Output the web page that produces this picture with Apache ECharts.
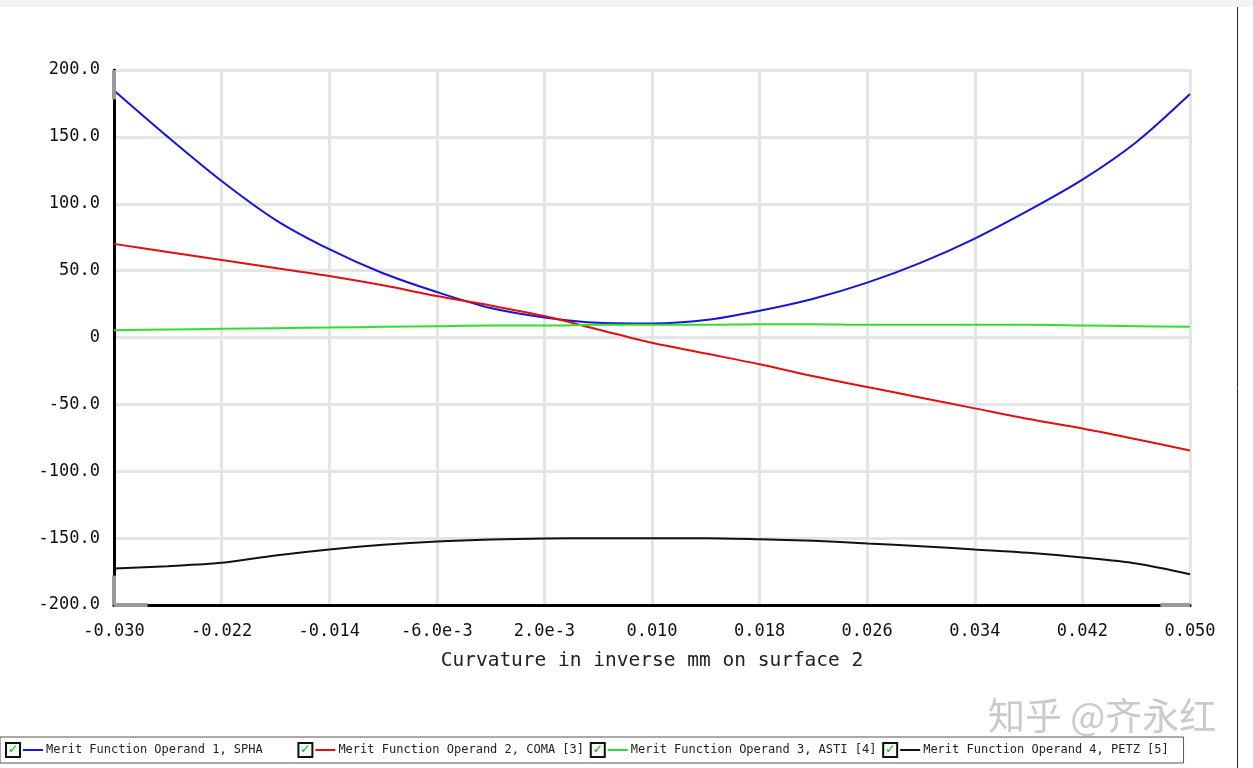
<!DOCTYPE html>
<html>
<head>
<meta charset="utf-8">
<script src="https://cdn.jsdelivr.net/npm/echarts@6/dist/echarts.min.js"></script>
<style>
html,body{margin:0;padding:0;background:#fff;}
#chart{width:1253px;height:768px;}
</style>
</head>
<body>
<div id="chart"></div>
<script>
// Curvature (inverse mm) on surface 2
const curvature = [-0.030,-0.026,-0.022,-0.018,-0.014,-0.010,-0.006,-0.002,0.002,0.006,0.010,0.014,0.018,0.022,0.026,0.030,0.034,0.038,0.042,0.046,0.050];
const spha = [184.7,150,117,88,66,48,34,22,15,11,10.5,13,20,29,41,56,74,95,118,146,182];
const coma = [70,64,58,52,46,39,31,24,16,6,-4,-12,-20,-29,-37,-45,-53,-61,-68,-76,-84.5];
const asti = [5.5,6,6.5,7,7.5,8,8.5,9,9,9.5,9.5,9.5,10,10,9.5,9.5,9.5,9.5,9,8.5,8];
const petz = [-172.7,-171,-168.5,-163,-158.5,-155,-152.5,-151,-150.3,-150,-150,-150,-150.8,-152,-154,-156,-158.5,-161,-164.5,-169,-177];
const seriesNames = ['Merit Function Operand 1, SPHA','Merit Function Operand 2, COMA [3]','Merit Function Operand 3, ASTI [4]','Merit Function Operand 4, PETZ [5]'];
const xTickValues = [-0.030,-0.022,-0.014,-0.006,0.002,0.010,0.018,0.026,0.034,0.042,0.050];
const xTickLabels = ['-0.030','-0.022','-0.014','-6.0e-3','2.0e-3','0.010','0.018','0.026','0.034','0.042','0.050'];
const yTickValues = [-200,-150,-100,-50,0,50,100,150,200];
const yTickLabels = ['-200.0','-150.0','-100.0','-50.0','0','50.0','100.0','150.0','200.0'];
const xTitle = 'Curvature in inverse mm on surface 2';
const watermark = '知乎 @齐永红';

const colors = ['#1515d8','#e01010','#2ee02e','#111111'];
const allData = [spha, coma, asti, petz];
const mono = 'DejaVu Sans Mono';

function nearestLabel(v, vals, labels){
  let best = 0, bd = Infinity;
  vals.forEach((t,i)=>{ const d = Math.abs(t - v); if (d < bd){bd = d; best = i;} });
  return labels[best];
}

const chart = echarts.init(document.getElementById('chart'), null, {renderer:'canvas'});

const rich = {
  cb: {width:12, height:12, borderColor:'#111', borderWidth:2, backgroundColor:'#f2fbf2', color:'#16a016', align:'center', fontSize:12, fontWeight:'bold', lineHeight:12, fontFamily:'DejaVu Sans'},
  sp: {width:4},
  sp2: {width:3},
  f: {width:5.5},
  t: {fontFamily: mono, fontSize:12, color:'#222'}
};
colors.forEach((c,i)=>{ rich['l'+i] = {width:20, height:2, backgroundColor:c}; });

const gray = '#9a9a9a';
const series = allData.map((d,i)=>({
  name: seriesNames[i],
  type: 'line',
  data: curvature.map((x,j)=>[x, d[j]]),
  showSymbol: false,
  smooth: 0.3,
  lineStyle: {color: colors[i], width: 2},
  itemStyle: {color: colors[i]},
  z: 3
}));
// gray end caps of the axes (scroll-bar style)
series[3].markLine = {
  silent: true, symbol: 'none', label:{show:false},
  lineStyle: {color: gray, width: 4, type: 'solid'},
  data: [
    [{coord:[-0.030,200]},{coord:[-0.030,178]}],
    [{coord:[-0.030,-178]},{coord:[-0.030,-200]}],
    [{coord:[-0.030,-200]},{coord:[-0.0275,-200]}],
    [{coord:[0.0478,-200]},{coord:[0.050,-200]}]
  ]
};

chart.setOption({
  animation: false,
  backgroundColor: '#ffffff',
  color: colors,
  grid: {left:114, right:63, top:70, bottom:163, containLabel:false},
  xAxis: {
    type: 'value', min: -0.030, max: 0.050,
    name: xTitle, nameLocation: 'middle', nameGap: 46,
    nameTextStyle: {fontFamily: mono, fontSize: 19.5, color:'#222'},
    axisLine: {show:true, onZero:false, lineStyle:{color:'#000', width:3}},
    axisTick: {show:false, customValues: xTickValues},
    axisLabel: {customValues: xTickValues, margin: 18, fontFamily: mono, fontSize: 17, color:'#111',
      formatter: v => nearestLabel(v, xTickValues, xTickLabels)},
    splitLine: {show:true, lineStyle:{color:'#e5e5e5', width:3}}
  },
  yAxis: {
    type: 'value', min: -200, max: 200, interval: 50,
    axisLine: {show:true, onZero:false, lineStyle:{color:'#000', width:3}},
    axisTick: {show:false},
    axisLabel: {margin: 14, fontFamily: mono, fontSize: 17, color:'#111',
      formatter: v => nearestLabel(v, yTickValues, yTickLabels)},
    splitLine: {show:true, lineStyle:{color:'#e5e5e5', width:3}}
  },
  legend: {
    left: 0, top: 737, orient:'horizontal', itemGap: 0, itemWidth: 0, itemHeight: 0, icon: 'none',
    padding: [5, 12, 5, 2], borderColor:'#555', borderWidth: 1, backgroundColor:'#fff',
    selectedMode: false,
    data: seriesNames,
    formatter: name => {
      const i = seriesNames.indexOf(name);
      const pad = ' '.repeat(Math.max(0, 34 - name.length));
      return '{cb|✓}{sp|}{l'+i+'|}{sp2|}{t|'+name+pad+'}{f|}';
    },
    textStyle: {fontFamily: mono, fontSize: 12, color:'#222', rich: rich}
  },
  graphic: [
    {type:'rect', left:0, top:0, shape:{width:1253, height:7}, style:{fill:'#f4f4f4'}, silent:true},
    {type:'line', shape:{x1:1237.5, y1:7, x2:1237.5, y2:768}, style:{stroke:'#222', lineWidth:1}, silent:true},
    {type:'text', left:988, top:697, style:{text: watermark, fontSize:37, fontFamily:'Noto Sans CJK SC', fill:'#cacaca', textShadowColor:'#8a8a8a', textShadowOffsetX:1, textShadowOffsetY:1, textShadowBlur:0}, silent:true}
  ],
  series: series
});
</script>
</body>
</html>
